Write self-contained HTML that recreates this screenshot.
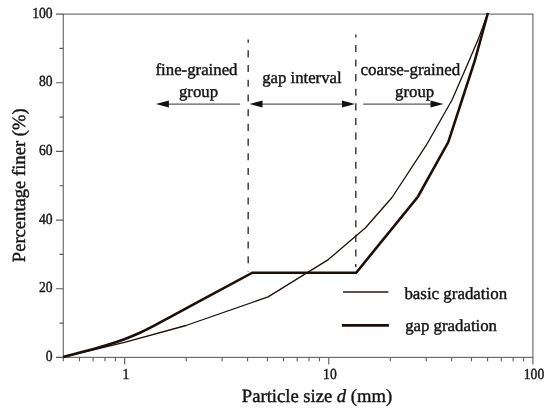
<!DOCTYPE html>
<html><head><meta charset="utf-8"><title>Gradation curves</title>
<style>html,body{margin:0;padding:0;background:#fff}body{width:550px;height:411px;overflow:hidden}svg{display:block}text{font-family:"Liberation Serif","Times New Roman",serif;fill:#141414;stroke:#141414;stroke-width:0.42px;text-rendering:geometricPrecision}</style></head><body>
<svg width="550" height="411" viewBox="0 0 550 411">
<rect width="550" height="411" fill="#ffffff"/>
<rect x="63.3" y="14.1" width="469.6" height="343.3" fill="none" stroke="#6e6e6e" stroke-width="1.2"/>
<path d="M63.3 357.4h-7.3 M63.3 323.1h-3.8 M63.3 288.7h-7.3 M63.3 254.4h-3.8 M63.3 220.1h-7.3 M63.3 185.8h-3.8 M63.3 151.4h-7.3 M63.3 117.1h-3.8 M63.3 82.8h-7.3 M63.3 48.4h-3.8 M63.3 14.1h-7.3 M63.3 357.4v3.8 M79.5 357.4v3.8 M93.1 357.4v3.8 M105.0 357.4v3.8 M115.4 357.4v3.8 M186.2 357.4v3.8 M222.1 357.4v3.8 M247.6 357.4v3.8 M267.4 357.4v3.8 M283.5 357.4v3.8 M297.2 357.4v3.8 M309.0 357.4v3.8 M319.5 357.4v3.8 M390.3 357.4v3.8 M426.2 357.4v3.8 M451.7 357.4v3.8 M471.5 357.4v3.8 M487.6 357.4v3.8 M501.3 357.4v3.8 M513.1 357.4v3.8 M523.6 357.4v3.8 M124.7 357.4v7.2 M328.8 357.4v7.2 M532.9 357.4v7.2" stroke="#5a5a5a" stroke-width="1.1" fill="none"/>
<text transform="translate(52.6 360.9) scale(0.89 1)" font-size="15.3" text-anchor="end">0</text>
<text transform="translate(52.6 292.2) scale(0.89 1)" font-size="15.3" text-anchor="end">20</text>
<text transform="translate(52.6 223.6) scale(0.89 1)" font-size="15.3" text-anchor="end">40</text>
<text transform="translate(52.6 154.9) scale(0.89 1)" font-size="15.3" text-anchor="end">60</text>
<text transform="translate(52.6 86.3) scale(0.89 1)" font-size="15.3" text-anchor="end">80</text>
<text transform="translate(52.6 17.6) scale(0.89 1)" font-size="15.3" text-anchor="end">100</text>
<text transform="translate(125.8 378.9) scale(0.89 1)" font-size="15.3" text-anchor="middle">1</text>
<text transform="translate(329.9 378.9) scale(0.89 1)" font-size="15.3" text-anchor="middle">10</text>
<text transform="translate(534.0 378.9) scale(0.89 1)" font-size="15.3" text-anchor="middle">100</text>
<text x="317" y="402.2" font-size="18.6" text-anchor="middle">Particle size <tspan font-style="italic">d</tspan> (mm)</text>
<text transform="translate(24.7 185.3) rotate(-90)" font-size="18.6" text-anchor="middle">Percentage finer (%)</text>
<path d="M248.2 39.4V271.5" stroke="#404040" stroke-width="1.5" stroke-dasharray="7.1 7.607" stroke-dashoffset="3.8" fill="none"/>
<path d="M355.8 34.4V267.2" stroke="#404040" stroke-width="1.5" stroke-dasharray="7.1 7.507" stroke-dashoffset="4.1" fill="none"/>
<polyline points="63.2,357.1 124.4,342.3 186,325.5 268.1,296.9 328.3,259.6 365.5,227.8 392,197.5 426.3,145.2 452,100 469.4,60.0 478.3,39.1 487.9,13.0" fill="none" stroke="#1c0f0a" stroke-width="1.3" stroke-linejoin="round"/>
<path d="M63.2 357.1 C80 352.5 95 348.6 103.8 346 C112 343.6 118 341.6 124.4 339.2 C132 336.4 136 334.6 140 332.8 C152 327.2 160 322.6 170 317.1 L200 300.9 L252.4 272.7 L356.2 272.7 L417.9 196.7 L448.3 142.1 L474.7 61 L487.9 13.0" fill="none" stroke="#1c0f0a" stroke-width="2.6" stroke-linejoin="miter"/>
<path d="M160 104H239.9M255 104H350M363.1 104H438" stroke="#5c5c5c" stroke-width="1.25" fill="none"/>
<path d="M155.9 104l13.0 -3.4v6.8z M249.5 104l13.0 -3.4v6.8z M355.0 104l-13.0 -3.4v6.8z M443.5 104l-13.0 -3.4v6.8z" fill="#111"/>
<text x="196.5" y="74.8" font-size="16.8" text-anchor="middle">fine-grained</text>
<text x="198.5" y="96.6" font-size="16.8" text-anchor="middle">group</text>
<text x="301.9" y="82.5" font-size="16.75" text-anchor="middle">gap interval</text>
<text x="410.4" y="75.1" font-size="16.95" text-anchor="middle">coarse-grained</text>
<text x="414.6" y="96.5" font-size="16.8" text-anchor="middle">group</text>
<path d="M343.1 292H388.4" stroke="#2a1c16" stroke-width="1.3"/>
<path d="M341.9 325.4H388.9" stroke="#1c0f0a" stroke-width="2.6"/>
<text x="404.4" y="298.6" font-size="16.9">basic gradation</text>
<text x="405.2" y="330.6" font-size="16.8">gap gradation</text>
</svg></body></html>
